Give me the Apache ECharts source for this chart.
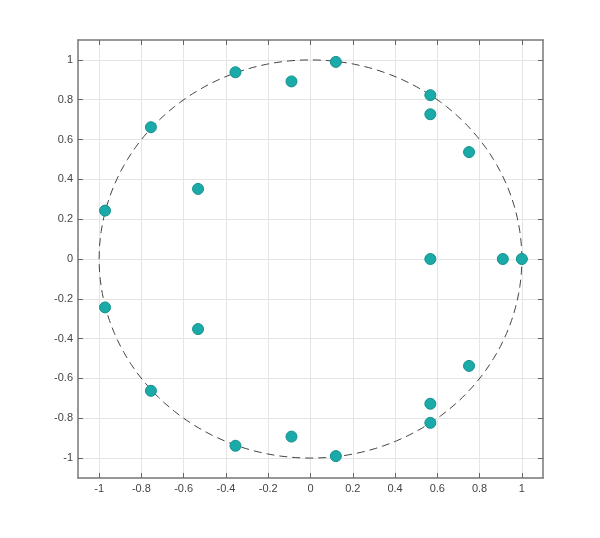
<!DOCTYPE html>
<html>
<head>
<meta charset="utf-8">
<script src="https://cdn.jsdelivr.net/npm/echarts@6/dist/echarts.min.js"></script>
<style>
  html, body { margin: 0; padding: 0; background: #fff; }
  #chart { width: 600px; height: 538px; }
</style>
</head>
<body>
<div id="chart"></div>
<script>
const xs = [0.12, -0.09, -0.355, -0.755, -0.972, -0.532, 0.567, 0.567, 0.75, 0.567, 0.91, 1.0,
            -0.972, -0.532, -0.755, -0.355, -0.09, 0.12, 0.567, 0.567, 0.75]
const ys = [0.99, 0.892, 0.938, 0.662, 0.243, 0.352, 0.823, 0.727, 0.537, 0, 0, 0,
            -0.243, -0.352, -0.662, -0.938, -0.892, -0.99, -0.823, -0.727, -0.537]
// reference circle: center x, center y, radius
const circle = [[0, 0, 1]]
const ticks = [-1, -0.8, -0.6, -0.4, -0.2, 0, 0.2, 0.4, 0.6, 0.8, 1]

const points = xs.map((x, i) => [x, ys[i]])

const chart = echarts.init(document.getElementById('chart'))

const axisBase = {
  type: 'value',
  min: -1.1,
  max: 1.1,
  interval: 0.2,
  axisLine: { show: true, onZero: false, lineStyle: { color: '#777', width: 1.5 } },
  axisTick: { show: true, inside: true, length: 5, lineStyle: { color: '#666' },
    customValues: ticks },
  splitLine: { show: false },
  axisLabel: { show: false }
}

chart.setOption({
  animation: false,
  grid: { left: 78, right: 57, top: 40, bottom: 60, containLabel: false },
  xAxis: [
    Object.assign({}, axisBase, {
      position: 'bottom',
      axisLabel: { show: true, customValues: ticks, color: '#444', fontSize: 11,
        fontFamily: 'Liberation Sans', margin: 5,
        formatter: v => String(Math.round(v * 10) / 10) },
      splitLine: { show: true, lineStyle: { color: '#e4e4e4', width: 1 } }
    }),
    Object.assign({}, axisBase, { position: 'top' })
  ],
  yAxis: [
    Object.assign({}, axisBase, {
      position: 'left',
      axisLabel: { show: true, customValues: ticks, color: '#444', fontSize: 11,
        fontFamily: 'Liberation Sans', margin: 5,
        formatter: v => String(Math.round(v * 10) / 10) },
      splitLine: { show: true, lineStyle: { color: '#e4e4e4', width: 1 } }
    }),
    Object.assign({}, axisBase, { position: 'right' })
  ],
  series: [
    {
      type: 'custom',
      data: circle,
      z: 2,
      renderItem: function (params, api) {
        const cx = api.value(0), cy = api.value(1), r = api.value(2)
        const pts = []
        for (let k = 0; k <= 360; k += 2) {
          const a = k * Math.PI / 180
          pts.push(api.coord([cx + r * Math.cos(a), cy + r * Math.sin(a)]))
        }
        return {
          type: 'polyline',
          shape: { points: pts },
          style: { fill: null, stroke: '#444', lineWidth: 1, lineDash: [8, 5] }
        }
      }
    },
    {
      type: 'scatter',
      data: points,
      symbolSize: 11,
      z: 3,
      itemStyle: { color: '#1aaaa8', borderColor: '#12908e', borderWidth: 1, opacity: 1 }
    }
  ]
})
</script>
</body>
</html>
